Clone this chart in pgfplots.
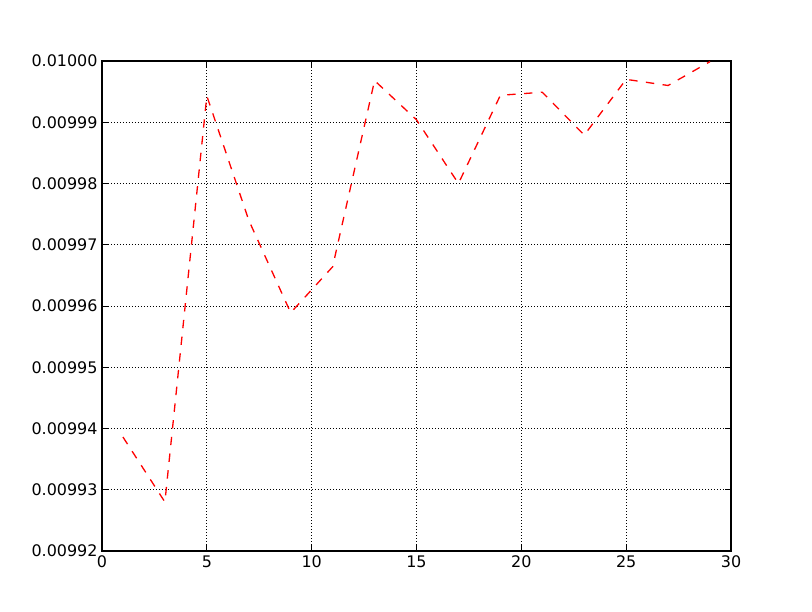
\documentclass[border=0pt]{standalone}
\usepackage{pgfplots}
\pgfplotsset{compat=1.18}
\usepackage{fontspec}
\setmainfont{DejaVu Sans}
\begin{document}
\begin{tikzpicture}
\begin{axis}[name=ax, scale only axis, width=629bp, height=490bp,
  xmin=0, xmax=30, ymin=0.00992, ymax=0.01,
  xtick={0,5,10,15,20,25,30},
  ytick={0.00992,0.00993,0.00994,0.00995,0.00996,0.00997,0.00998,0.00999,0.01},
  scaled y ticks=false,
  yticklabel style={/pgf/number format/fixed, /pgf/number format/fixed zerofill, /pgf/number format/precision=5, xshift=-1bp},
  /pgf/number format/assume math mode=true,
  tick align=inside, major tick length=5.6bp,
  tick style={black, line width=0.7bp},
  grid=major, grid style={black, line width=0.7bp, dash pattern=on 0.8bp off 2.2bp},
  axis line style={black, line width=1.2bp},
  ticklabel style={font=\fontsize{16}{19}\selectfont},
  xticklabel style={yshift=-1bp},
]
\addplot[red, line width=1.3bp, dash pattern=on 8.4bp off 8.4bp] coordinates {
(1,0.0099386) (3,0.0099280) (5,0.0099943) (7,0.0099740) (9,0.0099589)
(11,0.0099664) (13,0.0099968) (15,0.0099904) (17,0.0099800) (19,0.0099944)
(21,0.0099949) (23,0.0099879) (25,0.0099970) (27,0.0099960) (29,0.0099999)
};
\end{axis}
\path (ax.south west) +(-102bp,-61bp) (ax.north east) +(81bp,61bp);
\end{tikzpicture}
\end{document}
